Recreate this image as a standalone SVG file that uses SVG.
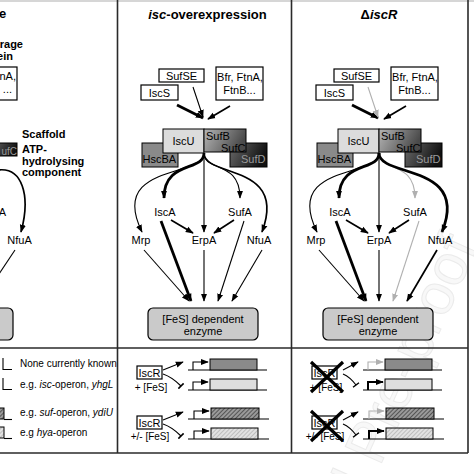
<svg xmlns="http://www.w3.org/2000/svg" width="474" height="474" viewBox="0 0 474 474">
<style>
text{font-family:"Liberation Sans",Arial,sans-serif;font-size:11px;fill:#000}
.b{font-weight:bold}
.t{font-size:13px;font-weight:bold}
.s{font-size:10px}
.c{text-anchor:middle}
.e{text-anchor:end}
.box{fill:#fff;stroke:#000;stroke-width:1.2}
.enz{fill:#cacaca;stroke:#000;stroke-width:1.2}
.ln{fill:none;stroke:#000;stroke-width:1.1}
.md{stroke-width:1.7}
.tk{stroke-width:2.8}
.gr{stroke:#b0b0b0}
.fr{stroke:#2a2a2a;stroke-width:1.6;fill:none}
.base{fill:none;stroke:#000;stroke-width:1.1}
</style>
<defs>
<marker id="a" viewBox="0 0 10 10" refX="9" refY="5" markerWidth="8" markerHeight="8" markerUnits="userSpaceOnUse" orient="auto"><path d="M0,1.2L10,5L0,8.8z" fill="#000"/></marker>
<marker id="ag" viewBox="0 0 10 10" refX="9" refY="5" markerWidth="8" markerHeight="8" markerUnits="userSpaceOnUse" orient="auto"><path d="M0,1.2L10,5L0,8.8z" fill="#b0b0b0"/></marker>
<marker id="tb" viewBox="0 0 4 10" refX="2" refY="5" markerWidth="3" markerHeight="8" markerUnits="userSpaceOnUse" orient="auto"><path d="M2,0V10" stroke="#000" stroke-width="2"/></marker>
<linearGradient id="gB" x1="0" y1="0" x2="1" y2="0.3"><stop offset="0" stop-color="#b5b5b5"/><stop offset="1" stop-color="#4a4a4a"/></linearGradient>
<linearGradient id="gD" x1="0" y1="0" x2="1" y2="0.3"><stop offset="0" stop-color="#6a6a6a"/><stop offset="1" stop-color="#111"/></linearGradient>
<pattern id="hd" width="3" height="3" patternUnits="userSpaceOnUse" patternTransform="rotate(45)"><rect width="3" height="3" fill="#9a9a9a"/><line x1="0.5" y1="0" x2="0.5" y2="3" stroke="#555" stroke-width="1"/></pattern>
<pattern id="hl" width="3" height="3" patternUnits="userSpaceOnUse" patternTransform="rotate(45)"><rect width="3" height="3" fill="#e2e2e2"/><line x1="0.5" y1="0" x2="0.5" y2="3" stroke="#b5b5b5" stroke-width="0.8"/></pattern>
</defs>
<rect width="474" height="474" fill="#fff"/>
<text x="478" y="246" transform="rotate(-66 478 246)" class="e" style="font-size:58px;fill:#f8f8f8;stroke:#ebebeb;stroke-width:1">Journal Pre-proof</text>

<!-- frame -->
<g id="frame">
<line x1="0" y1="1" x2="474" y2="1" stroke="#c8c8c8" stroke-width="1.5"/>
<line class="fr" x1="117.5" y1="0" x2="117.5" y2="453"/>
<line class="fr" x1="291.5" y1="0" x2="291.5" y2="453"/>
<line class="fr" x1="468" y1="0" x2="468" y2="453"/>
<line class="fr" x1="0" y1="348" x2="468" y2="348"/>
<line class="fr" x1="0" y1="453" x2="468" y2="453"/>
</g>

<!-- titles -->
<text class="t" x="-1" y="18">e</text>
<text class="t c" x="207.5" y="19"><tspan font-style="italic">isc</tspan>-overexpression</text>
<text class="t c" x="379" y="19">Δ<tspan font-style="italic">iscR</tspan></text>

<!-- LEFT PANEL -->
<g id="left-storage">
<text class="b e" x="23" y="48">rage</text>
<text class="b e" x="13" y="60">ein</text>
<rect class="box" x="-40" y="67" width="57" height="33"/>
<text class="e" x="16" y="80">nA,</text>
<text class="e" x="12" y="93">...</text>
</g>
<g id="left-legend-labels">
<text class="b" x="22" y="138">Scaffold</text>
<text class="b" x="22" y="153">ATP-</text>
<text class="b" x="22" y="165">hydrolysing</text>
<text class="b" x="22" y="176">component</text>
</g>
<g id="left-sufC">
<rect x="-10" y="143" width="27" height="13" fill="url(#gD)" stroke="#000" stroke-width="1"/>
<text class="e s" x="17" y="155" style="fill:#999">ufC</text>
</g>
<g id="left-A"><text class="e" x="6" y="216">A</text></g>
<g id="left-NfuA"><text class="c" x="19.5" y="244">NfuA</text></g>
<g id="left-enzyme"><rect class="enz" x="-60" y="308" width="73" height="32" rx="5"/></g>

<!-- MIDDLE PANEL nodes -->
<g id="m-SufSE"><rect class="box" x="159" y="69" width="45" height="13"/><text class="c" x="181.5" y="79.5">SufSE</text></g>
<g id="m-IscS"><rect class="box" x="141" y="85" width="37" height="15"/><text class="c" x="159.5" y="96.5">IscS</text></g>
<g id="m-Bfr"><rect class="box" x="216" y="67" width="47" height="33"/><text class="c" x="240" y="81">Bfr, FtnA,</text><text class="c" x="239.5" y="94">FtnB...</text></g>
<g id="m-complex">
<rect x="142" y="143" width="36" height="24" fill="#8a8a8a" stroke="#000" stroke-width="1"/>
<text x="142.5" y="163">HscBA</text>
<rect x="230" y="143" width="37" height="24" fill="url(#gD)" stroke="#000" stroke-width="1"/>
<text x="241" y="163" style="fill:#9a9a9a">SufD</text>
<rect x="163" y="129" width="41" height="24" fill="#dcdcdc" stroke="#000" stroke-width="1"/>
<text class="c" x="183.5" y="145">IscU</text>
<rect x="204" y="129" width="42" height="23" fill="url(#gB)" stroke="#000" stroke-width="1"/>
<text x="206" y="140">SufB</text>
<text x="221" y="152">SufC</text>
</g>
<g id="m-IscA"><text class="c" x="165" y="216">IscA</text></g>
<g id="m-SufA"><text class="c" x="240" y="216">SufA</text></g>
<g id="m-Mrp"><text class="c" x="141" y="244">Mrp</text></g>
<g id="m-ErpA"><text class="c" x="204" y="244">ErpA</text></g>
<g id="m-NfuA"><text class="c" x="259" y="244">NfuA</text></g>
<g id="m-enzyme"><rect class="enz" x="148" y="308" width="110" height="32" rx="5"/><text class="c" x="203" y="323">[FeS] dependent</text><text class="c" x="203" y="335">enzyme</text></g>

<!-- RIGHT PANEL nodes -->
<g id="r-SufSE"><rect class="box" x="334" y="69" width="45" height="13"/><text class="c" x="356.5" y="79.5">SufSE</text></g>
<g id="r-IscS"><rect class="box" x="316" y="85" width="37" height="15"/><text class="c" x="334.5" y="96.5">IscS</text></g>
<g id="r-Bfr"><rect class="box" x="391" y="67" width="47" height="33"/><text class="c" x="415" y="81">Bfr, FtnA,</text><text class="c" x="414.5" y="94">FtnB...</text></g>
<g id="r-complex">
<rect x="317" y="143" width="36" height="24" fill="#8a8a8a" stroke="#000" stroke-width="1"/>
<text x="317.5" y="163">HscBA</text>
<rect x="405" y="143" width="37" height="24" fill="url(#gD)" stroke="#000" stroke-width="1"/>
<text x="416" y="163" style="fill:#9a9a9a">SufD</text>
<rect x="338" y="129" width="41" height="24" fill="#dcdcdc" stroke="#000" stroke-width="1"/>
<text class="c" x="358.5" y="145">IscU</text>
<rect x="379" y="129" width="42" height="23" fill="url(#gB)" stroke="#000" stroke-width="1"/>
<text x="381" y="140">SufB</text>
<text x="396" y="152">SufC</text>
</g>
<g id="r-IscA"><text class="c" x="340" y="216">IscA</text></g>
<g id="r-SufA"><text class="c" x="415" y="216">SufA</text></g>
<g id="r-Mrp"><text class="c" x="316" y="244">Mrp</text></g>
<g id="r-ErpA"><text class="c" x="379" y="244">ErpA</text></g>
<g id="r-NfuA"><text class="c" x="440" y="244">NfuA</text></g>
<g id="r-enzyme"><rect class="enz" x="323" y="308" width="110" height="32" rx="5"/><text class="c" x="378" y="323">[FeS] dependent</text><text class="c" x="378" y="335">enzyme</text></g>

<!-- connectors -->
<g id="connectors">
<path class="ln md" d="M-2,170 C22,167 31,195 21,232" marker-end="url(#a)"/>
<line class="ln" x1="15" y1="250" x2="-5" y2="280"/>
<line class="ln tk" x1="177" y1="105" x2="203" y2="118" marker-end="url(#a)"/>
<line class="ln" x1="193" y1="87" x2="203" y2="117" marker-end="url(#a)"/>
<line class="ln md" x1="230" y1="106" x2="208" y2="119" marker-end="url(#a)"/>
<path class="ln" d="M204,153 C204,178 108,163 142,232" marker-end="url(#a)"/>
<path class="ln tk" d="M204,153 C204,172 164,160 164,198" marker-end="url(#a)"/>
<line class="ln" x1="204" y1="153" x2="204" y2="232" marker-end="url(#a)"/>
<path class="ln" d="M204,153 C204,172 240,160 240,198" marker-end="url(#a)"/>
<path class="ln md" d="M204,153 C204,178 288,163 262,232" marker-end="url(#a)"/>
<line class="ln md" x1="171" y1="220" x2="193" y2="233" marker-end="url(#a)"/>
<line class="ln md" x1="234" y1="220" x2="214" y2="233" marker-end="url(#a)"/>
<line class="ln" x1="144" y1="250" x2="189" y2="301" marker-end="url(#a)"/>
<line class="ln tk" x1="161" y1="221" x2="191" y2="301" marker-end="url(#a)"/>
<line class="ln" x1="204" y1="250" x2="204" y2="301" marker-end="url(#a)"/>
<line class="ln" x1="244" y1="221" x2="218" y2="301" marker-end="url(#a)"/>
<line class="ln" x1="262" y1="250" x2="232" y2="301" marker-end="url(#a)"/>
<line class="ln tk" x1="352" y1="105" x2="378" y2="118" marker-end="url(#a)"/>
<line class="ln gr" x1="368" y1="87" x2="378" y2="117" marker-end="url(#ag)"/>
<line class="ln md" x1="406" y1="106" x2="384" y2="119" marker-end="url(#a)"/>
<path class="ln" d="M379,153 C379,178 283,163 317,232" marker-end="url(#a)"/>
<path class="ln tk" d="M379,153 C379,172 339,160 339,198" marker-end="url(#a)"/>
<line class="ln" x1="379" y1="153" x2="379" y2="232" marker-end="url(#a)"/>
<path class="ln gr" d="M379,153 C379,172 415,160 415,198" marker-end="url(#ag)"/>
<path class="ln tk" d="M379,153 C379,178 470,163 442,232" marker-end="url(#a)"/>
<line class="ln md" x1="346" y1="220" x2="368" y2="233" marker-end="url(#a)"/>
<line class="ln md" x1="409" y1="220" x2="389" y2="233" marker-end="url(#a)"/>
<line class="ln" x1="319" y1="250" x2="364" y2="301" marker-end="url(#a)"/>
<line class="ln tk" x1="336" y1="221" x2="366" y2="301" marker-end="url(#a)"/>
<line class="ln" x1="379" y1="250" x2="379" y2="301" marker-end="url(#a)"/>
<line class="ln gr" x1="419" y1="221" x2="393" y2="301" marker-end="url(#ag)"/>
<line class="ln md" x1="437" y1="250" x2="407" y2="301" marker-end="url(#a)"/>
</g>

<!-- BOTTOM: left legend -->
<g id="legend">
<path class="base" d="M3,358V369.5H12"/>
<text class="s" x="20" y="367">None currently known</text>
<path class="base" d="M3,378V389.5H12"/>
<text class="s" x="20" y="388">e.g. <tspan font-style="italic">isc</tspan>-operon, <tspan font-style="italic">yhgL</tspan></text>
<rect x="-10" y="408" width="14" height="11" fill="url(#hd)" stroke="#000" stroke-width="1"/>
<path class="base" d="M4,419.5H12"/>
<text class="s" x="20" y="416">e.g. <tspan font-style="italic">suf</tspan>-operon, <tspan font-style="italic">ydiU</tspan></text>
<rect x="-10" y="427" width="14" height="11" fill="url(#hl)" stroke="#000" stroke-width="1"/>
<path class="base" d="M4,438.5H12"/>
<text class="s" x="20" y="436">e.g <tspan font-style="italic">hya</tspan>-operon</text>
</g>

<!-- BOTTOM: middle -->
<g id="m-IscR1"><rect class="box" x="137" y="366" width="25" height="13"/><text class="c" x="149.5" y="376.5">IscR</text><text class="c s" x="151" y="391">+ [FeS]</text></g>
<g id="m-IscR2"><rect class="box" x="137" y="416" width="25" height="13"/><text class="c" x="149.5" y="426.5">IscR</text><text class="c s" x="150" y="440">+/- [FeS]</text></g>
<g id="m-genes">
<line class="base" x1="188" y1="370" x2="267" y2="370"/><rect x="210" y="359" width="47" height="11" fill="#8a8a8a" stroke="#000" stroke-width="1"/>
<line class="base" x1="188" y1="390" x2="267" y2="390"/><rect x="210" y="379" width="47" height="11" fill="#dedede" stroke="#000" stroke-width="1"/>
<line class="base" x1="188" y1="419" x2="269" y2="419"/><rect x="211" y="408" width="48" height="11" fill="url(#hd)" stroke="#000" stroke-width="1"/>
<line class="base" x1="188" y1="439" x2="269" y2="439"/><rect x="211" y="428" width="47" height="11" fill="url(#hl)" stroke="#000" stroke-width="1"/>
</g>
<g id="m-reg">
<line class="ln" x1="163" y1="370" x2="183" y2="362" marker-end="url(#a)"/>
<path class="ln" d="M163,374 Q172,377 181,386" marker-end="url(#tb)"/>
<line class="ln" x1="163" y1="420" x2="183" y2="412" marker-end="url(#a)"/>
<path class="ln" d="M163,424 Q172,427 181,436" marker-end="url(#tb)"/>
<path class="ln" d="M193,370V362H208" marker-end="url(#a)"/>
<path class="ln" d="M193,390V382H208" marker-end="url(#a)"/>
<path class="ln" d="M194,419V411H209" marker-end="url(#a)"/>
<path class="ln" d="M194,439V431H209" marker-end="url(#a)"/>
</g>

<!-- BOTTOM: right -->
<g id="r-IscR1"><rect class="box" x="312" y="366" width="25" height="13"/><text class="c" x="324.5" y="376.5">IscR</text><text class="c s" x="326" y="391">+ [FeS]</text></g>
<g id="r-IscR2"><rect class="box" x="312" y="416" width="25" height="13"/><text class="c" x="324.5" y="426.5">IscR</text><text class="c s" x="325" y="440">+/- [FeS]</text></g>
<g id="r-cross">
<path d="M311,362L343,392M343,362L311,392" stroke="#000" stroke-width="3.2" fill="none"/>
<path d="M311,411L343,441M343,411L311,441" stroke="#000" stroke-width="3.2" fill="none"/>
</g>
<g id="r-genes">
<line class="base" x1="363" y1="370" x2="442" y2="370"/><rect x="385" y="359" width="47" height="11" fill="#8a8a8a" stroke="#000" stroke-width="1"/>
<line class="base" x1="363" y1="390" x2="442" y2="390"/><rect x="385" y="379" width="47" height="11" fill="#dedede" stroke="#000" stroke-width="1"/>
<line class="base" x1="363" y1="419" x2="444" y2="419"/><rect x="386" y="408" width="48" height="11" fill="url(#hd)" stroke="#000" stroke-width="1"/>
<line class="base" x1="363" y1="439" x2="444" y2="439"/><rect x="386" y="428" width="47" height="11" fill="url(#hl)" stroke="#000" stroke-width="1"/>
</g>
<g id="r-reg">
<line class="ln" x1="343" y1="370" x2="358" y2="362" marker-end="url(#a)"/>
<path class="ln" d="M343,374 Q350,377 356,385" marker-end="url(#tb)"/>
<line class="ln" x1="343" y1="420" x2="358" y2="412" marker-end="url(#a)"/>
<path class="ln" d="M343,424 Q350,427 356,435" marker-end="url(#tb)"/>
<path class="ln gr" d="M368,370V362H383" marker-end="url(#ag)"/>
<path class="ln" style="stroke-width:2" d="M368,390V382H383" marker-end="url(#a)"/>
<path class="ln gr" d="M369,419V411H384" marker-end="url(#ag)"/>
<path class="ln" style="stroke-width:2" d="M369,439V431H384" marker-end="url(#a)"/>
</g>
</svg>
